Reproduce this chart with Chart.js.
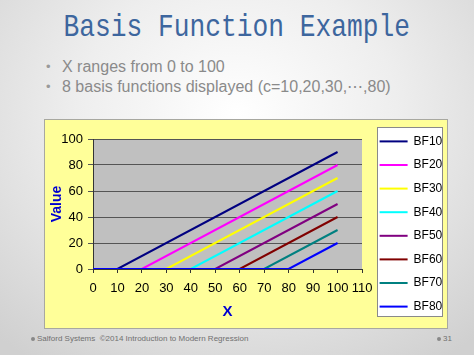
<!DOCTYPE html>
<html><head><meta charset="utf-8">
<script src="https://cdn.jsdelivr.net/npm/chart.js@4.4.1/dist/chart.umd.min.js"></script>
<style>
html,body{margin:0;padding:0;}
body{width:474px;height:355px;overflow:hidden;position:relative;
 background:radial-gradient(ellipse 75% 85% at 50% 32%, #ffffff 0%, #eeeeee 45%, #d0d0d0 100%);
 font-family:"Liberation Sans",Arial,sans-serif;}
#title{position:absolute;left:0;top:10px;width:474px;text-align:center;font-family:"Liberation Mono","Courier New",monospace;
 font-size:32px;line-height:36px;color:#3d669e;transform:scaleX(0.82);transform-origin:236px 0;white-space:nowrap;}
.b{position:absolute;left:62px;font-size:16px;line-height:18px;color:#8a8a8a;white-space:nowrap;}
.b::before{content:"\2022";position:absolute;left:-16px;top:0;font-size:13px;color:#9a9a9a;}
#box{position:absolute;left:44px;top:119px;width:402px;height:208px;border:1px solid #a8a8a0;background:#ffff99;}
#c{display:block;}
.f{position:absolute;font-size:8px;line-height:10px;color:#707070;white-space:nowrap;}
.f::before{content:"";position:absolute;left:-6px;top:3px;width:4px;height:4px;border-radius:2px;background:#888;}
</style></head>
<body>
<div id="title">Basis Function Example</div>
<div class="b" style="top:58px">X ranges from 0 to 100</div>
<div class="b" style="top:78px">8 basis functions displayed (c=10,20,30,⋯,80)</div>
<div id="box"><canvas id="c" width="402" height="208"></canvas></div>
<div class="f" style="left:37px;top:334px">Salford Systems &nbsp;©2014 Introduction to Modern Regression</div>
<div class="f" style="left:443px;top:334px">31</div>
<script>
// ---- data ----
const seriesNames = ['BF10','BF20','BF30','BF40','BF50','BF60','BF70','BF80'];
const kneeX  = [10, 20, 30, 40, 50, 60, 70, 80];   // where each line leaves 0
const valueAt100 = [90, 80, 70, 60, 50, 40, 30, 20]; // value at X = 100
const xStart = 0, xEnd = 100;
const xTicks = [0,10,20,30,40,50,60,70,80,90,100,110];
const yTicks = [0,20,40,60,80,100];
// ---- styles ----
const seriesColors = ['#000080','#ff00ff','#ffff00','#00ffff','#800080','#800000','#008080','#0000ff'];

const datasets = seriesNames.map((name, i) => ({
  label: name,
  data: [{x:xStart, y:0}, {x:kneeX[i], y:0}, {x:xEnd, y:valueAt100[i]}],
  borderColor: seriesColors[i],
  backgroundColor: seriesColors[i],
  borderWidth: 2,
  pointRadius: 0,
  tension: 0,
  fill: false,
  order: seriesNames.length - 1 - i
}));

const chromePlugin = {
  id: 'chrome',
  beforeUpdate(chart) {
    const lg = chart.legend;
    if (lg && !lg._patched) {
      const orig = lg.fit;
      lg.fit = function(){ orig.call(this); if (this.options.display) this.width = 79; };
      lg._patched = true;
    }
  },
  beforeDraw(chart) {
    const {ctx, chartArea: a} = chart;
    ctx.save();
    ctx.fillStyle = '#c0c0c0';
    ctx.fillRect(a.left, a.top, a.right - a.left, a.bottom - a.top);
    const lg = chart.legend;
    ctx.fillStyle = '#ffffff';
    ctx.strokeStyle = '#8a8a8a';
    ctx.lineWidth = 1;
    const x = Math.round(lg.left + 9) + 0.5, y = Math.round(lg.top + 7) + 0.5;
    ctx.fillRect(x, y, 65, 189);
    ctx.strokeRect(x, y, 65, 189);
    ctx.restore();
  }
};

new Chart(document.getElementById('c'), {
  type: 'line',
  data: { datasets },
  plugins: [chromePlugin],
  options: {
    responsive: false,
    animation: false,
    devicePixelRatio: 1,
    layout: { padding: 0 },
    plugins: {
      tooltip: { enabled: false },
      title: { display: true, text: ' ', fullSize: false, padding: { top: 9, bottom: 0 },
        font: { size: 10, lineHeight: 1 } },
      legend: {
        position: 'right',
        labels: {
          usePointStyle: true,
          pointStyle: 'line',
          pointStyleWidth: 28,
          padding: 11.6,
          color: '#000',
          font: { family: '"Liberation Sans", Arial, sans-serif', size: 12 },
          sort: (a, b) => a.datasetIndex - b.datasetIndex
        }
      }
    },
    scales: {
      x: {
        type: 'linear',
        min: xTicks[0], max: xTicks[xTicks.length - 1],
        afterBuildTicks: s => { s.ticks = xTicks.map(v => ({value: v})); },
        afterFit: s => { s.height = 59; },
        grid: { drawOnChartArea: false, drawTicks: true, tickLength: 4, color: '#333' },
        border: { display: true, color: '#333' },
        ticks: { color: '#000', padding: 8, maxRotation: 0, autoSkip: false,
          font: { family: '"Liberation Sans", Arial, sans-serif', size: 13 } },
        title: { display: true, text: 'X', color: '#0000d0', padding: { top: 4, bottom: 7 },
          font: { family: '"Liberation Sans", Arial, sans-serif', size: 15, weight: 'bold' } }
      },
      y: {
        min: yTicks[0], max: yTicks[yTicks.length - 1],
        afterBuildTicks: s => { s.ticks = yTicks.map(v => ({value: v})); },
        afterFit: s => { s.width = 48; },
        grid: { color: '#555', tickLength: 5, drawTicks: true },
        border: { display: true, color: '#333' },
        ticks: { color: '#000', padding: 5,
          font: { family: '"Liberation Sans", Arial, sans-serif', size: 13 } },
        title: { display: true, text: 'Value', color: '#0000d0', padding: { top: 4, bottom: 4 },
          font: { family: '"Liberation Sans", Arial, sans-serif', size: 14, weight: 'bold' } }
      },
      spacer: {
        type: 'linear', position: 'right', display: true,
        grid: { display: false }, border: { display: false }, ticks: { display: false },
        afterFit: s => { s.width = 6; }
      }
    }
  }
});
</script>
</body></html>
